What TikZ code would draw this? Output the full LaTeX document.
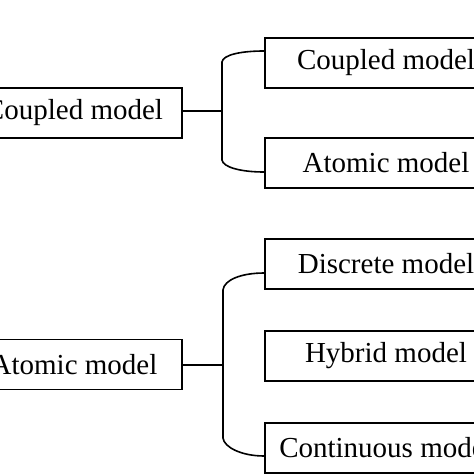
\documentclass[tikz,border=0pt]{standalone}
\usepackage{fontspec}
\setmainfont{Liberation Serif}
\begin{document}
\begin{tikzpicture}[x=1pt,y=-1pt,
  box/.style={draw=black,line width=1.6pt,inner sep=0pt,minimum height=50pt,
    font=\fontsize{29}{34}\selectfont,anchor=center},
  lbox/.style={box,minimum width=216pt},
  rbox/.style={box,minimum width=242pt},
  conn/.style={draw=black,line width=1.6pt}]
\useasboundingbox (0,0) rectangle (474,474);
\fill[white] (0,0) rectangle (474,474);
\clip (0,0) rectangle (474,474);
% top group
\node[lbox] (lc) at (74,113) {Coupled model};
\node[rbox] (rc) at (386,63) {Coupled model};
\node[rbox] (ra) at (386,163) {Atomic model};
\coordinate (j1) at (222,111);
\coordinate (t1) at (222,62);
\coordinate (b1) at (222,160);
\draw[conn] (lc.east |- j1) -- (j1);
\draw[conn] (rc.west |- 0,51) .. controls (240,51) and (223,55) .. (t1) -- (b1)
  .. controls (223,167) and (240,172) .. (ra.west |- 0,172);
% bottom group
\node[lbox] (la) at (74,364.5) {Atomic model};
\node[rbox] (rd) at (386,264) {Discrete model};
\node[rbox] (rh) at (386,356) {Hybrid model};
\node[rbox] (rn) at (386,448) {Continuous model};
\coordinate (j2) at (223,365);
\coordinate (t2) at (223,290);
\coordinate (b2) at (223,438);
\draw[conn] (la.east |- j2) -- (j2);
\draw[conn] (rd.west |- 0,273) .. controls (241,273) and (224,280) .. (t2) -- (b2)
  .. controls (224,447) and (241,456) .. (rn.west |- 0,456);
\end{tikzpicture}
\end{document}
